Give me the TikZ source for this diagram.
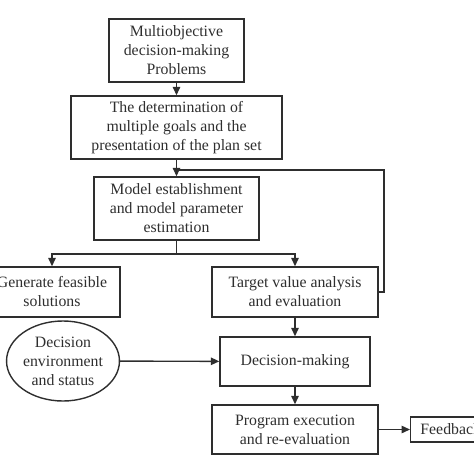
\documentclass[tikz,border=0pt]{standalone}
\usepackage{fontspec}
\setmainfont{Liberation Serif}
\usetikzlibrary{shapes.geometric,arrows.meta}
\definecolor{ink}{HTML}{2E2E2E}
\begin{document}
\begin{tikzpicture}[x=1pt,y=-1pt,
  box/.style={draw=ink,line width=1.4pt,rectangle,align=center,text=ink,
    font=\fontsize{15.8}{19}\selectfont,inner sep=0pt},
  oval/.style={draw=ink,line width=1.4pt,ellipse,align=center,text=ink,
    font=\fontsize{15.8}{19}\selectfont,inner sep=0pt},
  conn/.style={draw=ink,line width=1.4pt},
  arr/.style={conn,-{Triangle[length=8.5pt,width=7.5pt]}}]
\useasboundingbox (0,0) rectangle (474,474);
\begin{scope}
\clip (0,0) rectangle (474,474);
\node[box,minimum width=135pt,minimum height=63pt] (b1) at (176.5,50.5)
  {Multiobjective\\decision-making\\Problems};
\node[box,minimum width=211pt,minimum height=63pt] (b2) at (176.5,127.5)
  {The determination of\\multiple goals and the\\presentation of the plan set};
\node[box,minimum width=165pt,minimum height=63pt] (b3) at (176.5,208.5)
  {Model establishment\\and model parameter\\estimation};
\node[box,minimum width=136pt,minimum height=50pt] (gen) at (52,292)
  {Generate feasible\\solutions};
\node[box,minimum width=166pt,minimum height=50pt] (tgt) at (295,292)
  {Target value analysis\\and evaluation};
\node[box,minimum width=150pt,minimum height=49pt] (dm) at (295,361.5)
  {Decision-making};
\node[oval,minimum width=112pt,minimum height=80pt] (env) at (63,361)
  {Decision\\environment\\and status};
\node[box,minimum width=166pt,minimum height=49pt] (pe) at (295,429.5)
  {Program execution\\and re-evaluation};
\node[box,anchor=west,minimum width=80pt,minimum height=25pt] (fb) at (410,429.5)
  {Feedback};
\coordinate (split) at (176.5,254);
\coordinate (loopR) at (384,170);
\coordinate (loopJ) at (176.5,170);
\draw[arr] (b1) -- (b2);
\draw[arr] (b2) -- (b3);
\draw[conn] (b3.south) -- (split);
\draw[arr] (split) -| (gen.north);
\draw[arr] (split) -| (tgt.north);
\draw[conn] (tgt.east) -| (loopR) -- (loopJ);
\draw[arr] (tgt) -- (dm);
\draw[arr] (env) -- (dm);
\draw[arr] (dm) -- (pe);
\draw[arr] (pe) -- (fb);
\end{scope}
\end{tikzpicture}
\end{document}
